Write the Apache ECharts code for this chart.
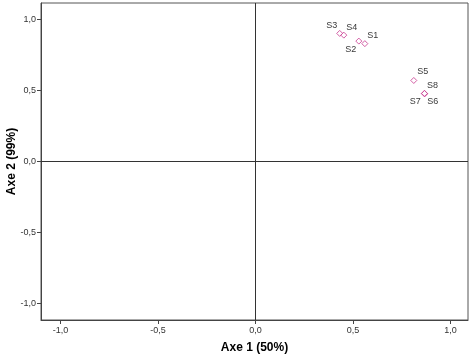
<!DOCTYPE html>
<html>
<head>
<meta charset="utf-8">
<script src="https://cdn.jsdelivr.net/npm/echarts@6/dist/echarts.min.js"></script>
<style>
  html, body { margin: 0; padding: 0; background: #fff; }
  #chart { width: 474px; height: 354px; }
</style>
</head>
<body>
<div id="chart"></div>
<script>
const names = ['S1', 'S2', 'S3', 'S4', 'S5', 'S6', 'S7', 'S8']
const axe1 = [0.561, 0.530, 0.432, 0.453, 0.812, 0.868, 0.866, 0.867]
const axe2 = [0.829, 0.847, 0.901, 0.889, 0.570, 0.476, 0.478, 0.479]
// label placement around each point: [dx, dy]
const labelOffsets = [[8, -8], [-8, 8], [-8, -8], [8, -8], [9, -9], [8, 8], [-9, 8], [8, -8]]
const ticks = [-1, -0.5, 0, 0.5, 1]

const fmt = (v) => v.toFixed(1).replace('.', ',')

const chart = echarts.init(document.getElementById('chart'), null, { renderer: 'canvas' })

const axisCommon = {
  type: 'value',
  nameLocation: 'middle',
  nameMoveOverlap: false,
  nameTextStyle: { color: '#000', fontWeight: 'bold', fontSize: 12, fontFamily: 'Liberation Sans' },
  axisLine: { show: true, onZero: false, lineStyle: { color: '#444' } },
  axisTick: { show: true, length: 4, customValues: ticks, lineStyle: { color: '#444' } },
  axisLabel: { color: '#333', fontSize: 9, fontFamily: 'Liberation Sans', customValues: ticks, formatter: fmt },
  splitLine: { show: false }
}

chart.setOption({
  animation: false,
  grid: {
    left: 41, right: 6, top: 3, bottom: 34,
    outerBoundsMode: 'none', containLabel: false,
    show: true, borderColor: '#555', borderWidth: 1
  },
  xAxis: Object.assign({}, axisCommon, {
    name: 'Axe 1 (50%)', min: -1.1, max: 1.09, nameGap: 22,
    axisLabel: Object.assign({}, axisCommon.axisLabel, { margin: 6 })
  }),
  yAxis: Object.assign({}, axisCommon, {
    name: 'Axe 2 (99%)', min: -1.115, max: 1.115, nameGap: 23,
    axisLabel: Object.assign({}, axisCommon.axisLabel, { margin: 5 })
  }),
  series: [{
    type: 'scatter',
    symbol: 'diamond',
    symbolSize: 6,
    itemStyle: { color: '#fff', borderColor: '#c8378f', borderWidth: 1 },
    data: names.map((n, i) => ({
      value: [axe1[i], axe2[i]],
      name: n,
      label: {
        show: true,
        formatter: n,
        position: 'inside',
        offset: labelOffsets[i],
        color: '#000',
        fontSize: 9,
        fontFamily: 'Liberation Sans'
      }
    })),
    markLine: {
      silent: true,
      symbol: 'none',
      label: { show: false },
      lineStyle: { color: '#333', type: 'solid', width: 1 },
      data: [{ xAxis: 0 }, { yAxis: 0 }]
    }
  }]
})
</script>
</body>
</html>
